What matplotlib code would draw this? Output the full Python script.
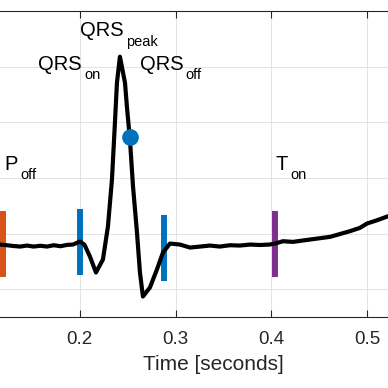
import matplotlib
matplotlib.use("Agg")
import matplotlib.pyplot as plt

# ECG beat (seconds, mV)
t_sig = [0.100, 0.117, 0.124, 0.131, 0.138, 0.145, 0.152, 0.159, 0.166, 0.173,
         0.180, 0.187, 0.193, 0.2003, 0.205, 0.2107, 0.2170, 0.2243, 0.2295, 0.2337,
         0.2368, 0.2389, 0.2420, 0.2473, 0.2493, 0.2525, 0.2556, 0.2598, 0.2629, 0.2660,
         0.2733, 0.2806, 0.2869, 0.2942, 0.3046, 0.3151, 0.3257, 0.336, 0.346, 0.357,
         0.367, 0.378, 0.388, 0.398, 0.4038, 0.4121, 0.4225, 0.4402, 0.4611, 0.4819,
         0.4924, 0.4997, 0.5101, 0.5216, 0.540]
v_sig = [-0.100, -0.099, -0.105, -0.112, -0.117, -0.108, -0.117, -0.110, -0.117, -0.105,
         -0.114, -0.102, -0.099, -0.072, -0.100, -0.206, -0.350, -0.233, 0.063, 0.485,
         0.996, 1.355, 1.589, 1.355, 1.140, 0.840, 0.430, 0.009, -0.350, -0.566,
         -0.485, -0.323, -0.171, -0.090, -0.099, -0.126, -0.117, -0.108, -0.117, -0.105,
         -0.108, -0.099, -0.103, -0.099, -0.090, -0.069, -0.075, -0.054, -0.030, 0.021,
         0.051, 0.090, 0.119, 0.155, 0.180]

# fiducial marks
mark_t = [0.120, 0.2003, 0.2882, 0.4037]
mark_hi = [0.200, 0.224, 0.164, 0.200]
mark_lo = [-0.389, -0.377, -0.428, -0.392]
mark_col = ["#D95319", "#0072BD", "#0072BD", "#7E2F8E"]

peak_t, peak_v = 0.2525, 0.87

# labels: (base, subscript, t, v)
labels = [("QRS", "peak", 0.2003, 1.771),
          ("QRS", "on", 0.1568, 1.472),
          ("QRS", "off", 0.2629, 1.472),
          ("P", "off", 0.1218, 0.575),
          ("T", "on", 0.4048, 0.575)]

xticks = [0.2, 0.3, 0.4, 0.5]
yticks = [-0.5, 0, 0.5, 1, 1.5, 2]

plt.rcParams["font.family"] = ["Liberation Sans", "DejaVu Sans"]
axcol = "#262626"

fig = plt.figure(figsize=(3.88, 3.88), dpi=100)
ax = fig.add_axes([-0.0418, 0.1830, 1.186, 0.7887])

ax.vlines(mark_t, mark_lo, mark_hi, colors=mark_col, linewidth=4.3, zorder=2)
ax.plot(t_sig, v_sig, color="black", linewidth=3, zorder=3)
ax.plot([peak_t], [peak_v], "o", color="#0072BD", markersize=11, zorder=4)

for base, sub, t, v in labels:
    b = ax.text(t, v, base, fontsize=14.5, va="baseline", ha="left", color="black")
    ax.annotate(sub, xy=(1, 0), xycoords=b, xytext=(1.6, -5.8),
                textcoords="offset points", fontsize=10.5, va="bottom", ha="left")

ax.set_xlim(0.1, 0.58)
ax.set_ylim(-0.75, 2.0)
ax.set_xticks(xticks)
ax.set_xticklabels([str(x) for x in xticks])
ax.set_yticks(yticks)
ax.set_yticklabels([])
ax.grid(True, color="#dedede", linewidth=0.6)
ax.set_axisbelow(True)
ax.tick_params(direction="in", length=5, width=0.8, top=True, right=True,
               colors=axcol, labelsize=13.5, pad=10)
for s in ax.spines.values():
    s.set_color(axcol)
    s.set_linewidth(0.8)
ax.set_xlabel("Time [seconds]", fontsize=15, color=axcol, labelpad=5)

fig.savefig("out.png", dpi=100)
